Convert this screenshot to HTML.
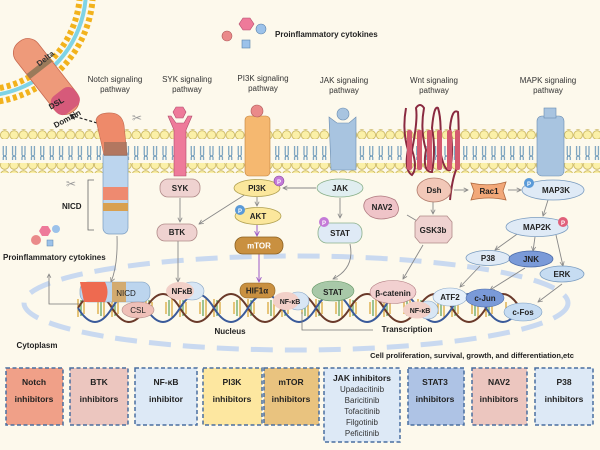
<!DOCTYPE html>
<html><head><meta charset="utf-8"><style>
html,body{margin:0;padding:0;background:#fdf9ec;}
svg{display:block;font-family:"Liberation Sans",sans-serif;}
.b{font-weight:bold;}
</style></head><body>
<svg width="600" height="450" viewBox="0 0 600 450" xmlns="http://www.w3.org/2000/svg">
<defs>
<pattern id="beads" x="0" y="0" width="9.4" height="10" patternUnits="userSpaceOnUse">
<circle cx="4.7" cy="5" r="4.3" fill="#fbf0a8" stroke="#c8b45c" stroke-width="0.8"/>
</pattern>
<pattern id="tails" x="0" y="0" width="9.4" height="26" patternUnits="userSpaceOnUse">
<path d="M3.2 1 V10 M6.2 1 V10 M3.2 1 Q4.7 -1 6.2 1 M3.2 16 V25 M6.2 16 V25 M3.2 25 Q4.7 27 6.2 25" stroke="#5a8db3" stroke-width="1" fill="none"/>
</pattern>
<marker id="ar" viewBox="0 0 10 10" refX="9" refY="5" markerWidth="6" markerHeight="6" orient="auto"><path d="M1 1 L9 5 L1 9" fill="none" stroke="#888" stroke-width="1.5"/></marker>
<marker id="arp" viewBox="0 0 10 10" refX="9" refY="5" markerWidth="6" markerHeight="6" orient="auto"><path d="M1 1 L9 5 L1 9" fill="none" stroke="#9b59c6" stroke-width="1.5"/></marker>
<marker id="ark" viewBox="0 0 10 10" refX="9" refY="5" markerWidth="6" markerHeight="6" orient="auto-start-reverse"><path d="M1 1 L9 5 L1 9" fill="none" stroke="#222" stroke-width="1.5"/></marker>
</defs>

<!-- left cell membrane -->
<circle cx="-20" cy="-10" r="113" fill="none" stroke="#f2b21c" stroke-width="6" stroke-dasharray="4 3"/>
<circle cx="-20" cy="-10" r="106" fill="none" stroke="#7fd3e6" stroke-width="4"/>
<circle cx="-20" cy="-10" r="100" fill="none" stroke="#f2b21c" stroke-width="6" stroke-dasharray="4 3"/>
<!-- Delta -->
<g transform="translate(45,75) rotate(-38)">
<rect x="-14" y="-42" width="28" height="88" rx="13" fill="#ee9a7a" stroke="#c86a50" stroke-width="0.8"/>
<rect x="-14" y="-12" width="28" height="6" fill="#9a7a5a"/>
<rect x="-14" y="22" width="28" height="22" rx="8" fill="#d65a7a"/>
</g>
<text x="37" y="64" font-size="8" class="b" transform="rotate(-38 42 62)" fill="#333">Delta</text>
<text x="49" y="107" font-size="8" class="b" transform="rotate(-30 55 105)" fill="#222">DSL</text>
<text x="52" y="122" font-size="8" class="b" transform="rotate(-28 66 118)" fill="#222">Domain</text>
<line x1="70" y1="115" x2="104" y2="125" stroke="#222" stroke-width="1.2" stroke-dasharray="3 2" marker-end="url(#ark)" marker-start="url(#ark)"/>

<!-- cytokines top -->
<polygon points="243,18 250,18 254,24 250,30 243,30 239,24" fill="#ee7a9a" stroke="#b04a6a" stroke-width="0.6"/>
<circle cx="227" cy="36" r="5" fill="#ea8a8a" stroke="#b05a5a" stroke-width="0.6"/>
<circle cx="261" cy="29" r="5" fill="#9cc2ea" stroke="#5a82aa" stroke-width="0.6"/>
<rect x="242" y="40" width="8" height="8" fill="#9cc2ea" stroke="#5a82aa" stroke-width="0.6"/>
<text x="275" y="37" font-size="8" class="b" fill="#222">Proinflammatory cytokines</text>

<!-- pathway labels -->
<g font-size="8" fill="#333" text-anchor="middle">
<text x="115" y="82">Notch signaling</text><text x="115" y="92">pathway</text>
<text x="187" y="82">SYK signaling</text><text x="187" y="92">pathway</text>
<text x="263" y="81">PI3K signaling</text><text x="263" y="91">pathway</text>
<text x="344" y="83">JAK signaling</text><text x="344" y="93">pathway</text>
<text x="434" y="83">Wnt signaling</text><text x="434" y="93">pathway</text>
<text x="548" y="83">MAPK signaling</text><text x="548" y="93">pathway</text>
</g>

<!-- membrane -->
<rect x="0" y="142" width="600" height="18" fill="url(#tails)"/>
<rect x="0" y="129" width="600" height="10" fill="url(#beads)"/>
<rect x="0" y="163" width="600" height="10" fill="url(#beads)"/>

<!-- Notch receptor -->
<rect x="103" y="150" width="25" height="84" rx="6" fill="#bcd5ee" stroke="#7a9cc0" stroke-width="0.7"/>
<rect x="103" y="187" width="25" height="13" fill="#ee8a70"/>
<rect x="103" y="203" width="25" height="8" fill="#d8a050"/>
<path d="M96 120 Q98 112 112 113 Q122 114 124 125 L127 155 L104 155 Z" fill="#ee8a6a" stroke="#c06a50" stroke-width="0.6"/>
<rect x="104" y="142" width="23" height="14" fill="#8a6a5a" opacity="0.6"/>
<path d="M94 180 H88 V230 H94" fill="none" stroke="#666" stroke-width="0.8"/>
<text x="62" y="209" font-size="8" class="b" fill="#222">NICD</text>
<text x="132" y="122" font-size="12" fill="#999">✂</text>
<text x="66" y="188" font-size="12" fill="#999">✂</text>

<!-- SYK receptor -->
<path d="M171 116 L176 123 H184 L188 116 L192 116 L186 130 L186 176 L174 176 L174 130 L168 116 Z" fill="#ee7a9a" stroke="#b04a6a" stroke-width="0.6"/>
<polygon points="176,107 183,107 186,112 183,118 176,118 173,112" fill="#ee7a9a" stroke="#b04a6a" stroke-width="0.6"/>
<!-- PI3K receptor -->
<rect x="245" y="116" width="25" height="60" rx="4" fill="#f5b870" stroke="#c0803a" stroke-width="0.6"/>
<circle cx="257" cy="111" r="6" fill="#ea8a8a" stroke="#b05a5a" stroke-width="0.6"/>
<!-- JAK receptor -->
<path d="M329 117 L337 123 H349 L356 117 L356 170 L331 170 Z" fill="#a8c4e0" stroke="#6a8cb0" stroke-width="0.6"/>
<circle cx="343" cy="114" r="6" fill="#a8c4e0" stroke="#6a8cb0" stroke-width="0.6"/>
<!-- Wnt -->
<g fill="none" stroke="#8a2a40" stroke-width="2">
<path d="M406 108 Q402 130 408 150 Q404 170 412 175 Q418 168 412 150 Q418 120 416 108 Q420 102 424 108 Q420 130 426 150 Q422 172 432 172 Q436 150 432 128 Q434 105 438 108 Q442 120 440 150 Q444 172 450 170 Q454 150 450 128 Q452 108 458 112 Q460 140 456 170 Q452 180 450 200"/>
</g>
<g fill="#d45a70"><rect x="407" y="130" width="5" height="40" rx="2"/><rect x="417" y="130" width="5" height="40" rx="2"/><rect x="427" y="130" width="5" height="40" rx="2"/><rect x="437" y="130" width="5" height="40" rx="2"/><rect x="447" y="130" width="5" height="40" rx="2"/><rect x="455" y="130" width="5" height="40" rx="2"/></g>
<!-- MAPK receptor -->
<rect x="537" y="116" width="27" height="60" rx="5" fill="#a8c4e0" stroke="#6a8cb0" stroke-width="0.6"/>
<rect x="544" y="108" width="12" height="10" fill="#a8c4e0" stroke="#6a8cb0" stroke-width="0.6"/>

<!-- nucleus -->
<ellipse cx="296" cy="303" rx="272" ry="47" fill="none" stroke="#c9d9f0" stroke-width="5" stroke-dasharray="22 12"/>

<!-- DNA -->
<g stroke-width="1.2">
<path d="M78 299V317M84 302V314M98 302V314M104 299V317M112 299V317M118 302V314M132 302V314M138 299V317M146 299V317M152 302V314M166 302V314M172 299V317M180 299V317M186 302V314M200 302V314M206 299V317M214 299V317M220 302V314M234 302V314M240 299V317M248 299V317M254 302V314M268 302V314M274 299V317M282 299V317M288 302V314M302 302V314M308 299V317M316 299V317M322 302V314M336 302V314M342 299V317M350 299V317M356 302V314M370 302V314M376 299V317M384 299V317M390 302V314M404 302V314M410 299V317M418 299V317M424 302V314M438 302V314M444 299V317M452 299V317M458 302V314M472 302V314M478 299V317M486 299V317M492 302V314M506 302V314" stroke="#d8a030"/>
<path d="M81 300V316M101 300V316M115 300V316M135 300V316M149 300V316M169 300V316M183 300V316M203 300V316M217 300V316M237 300V316M251 300V316M271 300V316M285 300V316M305 300V316M319 300V316M339 300V316M353 300V316M373 300V316M387 300V316M407 300V316M421 300V316M441 300V316M455 300V316M475 300V316M489 300V316" stroke="#5aa05a"/>
<path d="M78 308 Q95 280 112 308 T146 308 T180 308 T214 308 T248 308 T282 308 T316 308 T350 308 T384 308 T418 308 T452 308 T486 308 T520 308" fill="none" stroke="#6a3a2a" stroke-width="2"/>
<path d="M78 308 Q95 336 112 308 T146 308 T180 308 T214 308 T248 308 T282 308 T316 308 T350 308 T384 308 T418 308 T452 308 T486 308 T520 308" fill="none" stroke="#3a5a9a" stroke-width="2"/>
</g>

<!-- transcription/cytokines arrows -->
<path d="M80 304 H49 V274" fill="none" stroke="#777" stroke-width="0.8" marker-end="url(#ar)"/>
<path d="M302 312 V330 H373" fill="none" stroke="#777" stroke-width="0.8"/>

<!-- left cytokines -->
<polygon points="42,226 48,226 51,231 48,236 42,236 39,231" fill="#ee7a9a"/>
<circle cx="56" cy="229" r="4" fill="#9cc2ea"/>
<circle cx="36" cy="240" r="5" fill="#ea8a8a"/>
<rect x="47" y="240" width="6" height="6" fill="#9cc2ea" stroke="#5a82aa" stroke-width="0.5"/>
<text x="3" y="260" font-size="8" class="b" fill="#222">Proinflammatory cytokines</text>

<!-- arrows -->
<g stroke="#888" stroke-width="0.9" fill="none" marker-end="url(#ar)">
<path d="M117 236 Q118 265 111 282"/>
<line x1="180" y1="198" x2="180" y2="222"/>
<line x1="178" y1="241" x2="178" y2="282"/>
<line x1="246" y1="194" x2="199" y2="224"/>
<line x1="257" y1="197" x2="257" y2="206"/>
<line x1="316" y1="188" x2="283" y2="188"/>
<line x1="340" y1="198" x2="340" y2="218"/>
<path d="M350 244 Q355 268 333 279"/>
<line x1="433" y1="201" x2="433" y2="214"/>
<line x1="407" y1="215" x2="424" y2="225"/>
<line x1="423" y1="245" x2="403" y2="279"/>
<line x1="454" y1="190" x2="468" y2="190"/>
<line x1="508" y1="190" x2="521" y2="190"/>
<line x1="548" y1="200" x2="543" y2="216"/>
<line x1="520" y1="232" x2="495" y2="250"/>
<line x1="535" y1="237" x2="533" y2="251"/>
<line x1="556" y1="235" x2="563" y2="266"/>
<line x1="480" y1="266" x2="460" y2="287"/>
<line x1="525" y1="268" x2="490" y2="290"/>
<line x1="562" y1="284" x2="538" y2="302"/>
</g>
<g stroke="#9b59c6" stroke-width="1" marker-end="url(#arp)">
<line x1="257" y1="225" x2="257" y2="236"/>
<line x1="259" y1="254" x2="259" y2="282"/>
</g>

<!-- nodes -->
<g font-size="8" class="b" fill="#222" text-anchor="middle">
<rect x="160" y="179" width="40" height="18" rx="8" fill="#efd2d0" stroke="#b08a88" stroke-width="0.8"/><text x="180" y="191">SYK</text>
<rect x="157" y="224" width="40" height="17" rx="8" fill="#efd2d0" stroke="#b08a88" stroke-width="0.8"/><text x="177" y="235">BTK</text>
<ellipse cx="257" cy="188" rx="23" ry="8.5" fill="#fbe79c" stroke="#b0a050" stroke-width="0.8"/><text x="257" y="191">PI3K</text>
<circle cx="279" cy="181" r="5" fill="#c47ad8" stroke="#8a4aa0" stroke-width="0.6"/><text x="279" y="184" font-size="6" fill="#fff">P</text>
<ellipse cx="258" cy="216" rx="23" ry="8.5" fill="#fbe79c" stroke="#b0a050" stroke-width="0.8"/><text x="258" y="219">AKT</text>
<circle cx="240" cy="210" r="5" fill="#5a9ad8"/><text x="240" y="213" font-size="6" fill="#fff">P</text>
<rect x="235" y="237" width="48" height="17" rx="8" fill="#c99040" stroke="#8a6020" stroke-width="0.8"/><text x="259" y="248.5" fill="#fff">mTOR</text>
<ellipse cx="340" cy="188" rx="23" ry="9" fill="#e0eef0" stroke="#8ab08a" stroke-width="0.8"/><text x="340" y="191">JAK</text>
<rect x="318" y="223" width="44" height="20" rx="9" fill="#dfeaf6" stroke="#8ab08a" stroke-width="0.8"/><text x="340" y="236">STAT</text>
<circle cx="324" cy="222" r="5" fill="#c47ad8"/><text x="324" y="225" font-size="6" fill="#fff">P</text>
<path d="M366 200 Q380 192 395 200 Q402 210 395 216 Q380 222 370 216 Q360 208 366 200 Z" fill="#efc4c8" stroke="#b07a80" stroke-width="0.8"/><text x="382" y="210">NAV2</text>
<ellipse cx="434" cy="190" rx="17" ry="12" fill="#f2c8b8" stroke="#b07a6a" stroke-width="0.8"/><text x="434" y="193">Dsh</text>
<polygon points="415,222 420,216 447,216 452,222 452,237 447,243 420,243 415,237" fill="#efd2d0" stroke="#b08a88" stroke-width="0.8"/><text x="433" y="233">GSK3b</text>
<path d="M471 183 Q489 187 506 182 L503 191 L506 200 Q489 196 471 200 L474 191 Z" fill="#f2a878" stroke="#b06a40" stroke-width="0.8"/><text x="489" y="194">Rac1</text>
<ellipse cx="553" cy="190" rx="31" ry="10" fill="#dfeaf6" stroke="#7a9cc0" stroke-width="0.8"/><text x="556" y="193">MAP3K</text>
<circle cx="529" cy="183" r="5" fill="#5a9ad8"/><text x="529" y="186" font-size="6" fill="#fff">P</text>
<ellipse cx="537" cy="227" rx="31" ry="9.5" fill="#dfeaf6" stroke="#7a9cc0" stroke-width="0.8"/><text x="537" y="230">MAP2K</text>
<circle cx="563" cy="222" r="5" fill="#e0607a"/><text x="563" y="225" font-size="6" fill="#fff">P</text>
<ellipse cx="488" cy="258" rx="22" ry="7.5" fill="#dfeaf6" stroke="#7a9cc0" stroke-width="0.8"/><text x="488" y="261">P38</text>
<ellipse cx="531" cy="259" rx="22" ry="8" fill="#7a9ad8" stroke="#4a6aa8" stroke-width="0.8"/><text x="531" y="262">JNK</text>
<ellipse cx="562" cy="274" rx="22" ry="8" fill="#c6dcf2" stroke="#7a9cc0" stroke-width="0.8"/><text x="562" y="277">ERK</text>

<!-- nuclear -->
<rect x="80" y="282" width="70" height="20" rx="8" fill="#bcd5ee" stroke="#7a9cc0" stroke-width="0.6"/>
<path d="M80 282 H105 Q110 292 105 302 H84 Z" fill="#ee6a50"/>
<rect x="112" y="282" width="14" height="20" fill="#d8a050" opacity="0.8"/>
<text x="126" y="296" font-weight="normal">NICD</text>
<ellipse cx="138" cy="310" rx="16" ry="8" fill="#efc0b8" stroke="#b08a88" stroke-width="0.6"/><text x="138" y="313" font-weight="normal">CSL</text>
<ellipse cx="192" cy="291" rx="12" ry="9" fill="#d8e6f4" stroke="#8aa8c8" stroke-width="0.6"/>
<ellipse cx="180" cy="291" rx="14" ry="9" fill="#f2d0c8"/><text x="182" y="294">NFκB</text>
<rect x="240" y="283" width="35" height="15" rx="7" fill="#c99040" stroke="#8a6020" stroke-width="0.6"/><text x="257" y="293.5">HIF1α</text>
<ellipse cx="298" cy="301" rx="11" ry="9" fill="#d8e6f4" stroke="#8aa8c8" stroke-width="0.6"/>
<ellipse cx="286" cy="301" rx="13" ry="9" fill="#f2d0c8"/><text x="290" y="304" font-size="7">NF-κB</text>
<ellipse cx="333" cy="291" rx="21" ry="10" fill="#a8c8a8" stroke="#6a9a6a" stroke-width="0.6"/><text x="333" y="295">STAT</text>
<ellipse cx="393" cy="292" rx="23" ry="11.5" fill="#f2d0d0" stroke="#b07a80" stroke-width="0.6"/><text x="393" y="296">β-catenin</text>
<ellipse cx="428" cy="310" rx="10" ry="9" fill="#d8e6f4" stroke="#8aa8c8" stroke-width="0.6"/>
<ellipse cx="417" cy="310" rx="14" ry="8.5" fill="#f2d0c8"/><text x="420" y="313" font-size="7">NF-κB</text>
<ellipse cx="450" cy="297" rx="17" ry="9" fill="#e6f0fa" stroke="#8aa8c8" stroke-width="0.6"/><text x="450" y="300">ATF2</text>
<ellipse cx="485" cy="298" rx="19" ry="9" fill="#7a9ad8" stroke="#4a6aa8" stroke-width="0.6"/><text x="485" y="301">c-Jun</text>
<ellipse cx="523" cy="312" rx="19" ry="9" fill="#c6dcf2" stroke="#7a9cc0" stroke-width="0.6"/><text x="523" y="315">c-Fos</text>
<text x="230" y="334">Nucleus</text>
<text x="407" y="332">Transcription</text>
<text x="37" y="348">Cytoplasm</text>
<text x="472" y="358" font-size="7.5">Cell proliferation, survival, growth, and differentiation,etc</text>
</g>

<!-- inhibitor boxes -->
<g stroke="#4a6fa0" stroke-width="1.5" stroke-dasharray="4 2.5">
<rect x="6" y="368" width="57" height="57" fill="#f0a088"/>
<rect x="70" y="368" width="58" height="57" fill="#ecc6bf"/>
<rect x="135" y="368" width="62" height="57" fill="#dde9f6"/>
<rect x="203" y="368" width="59" height="57" fill="#fde7a0"/>
<rect x="264" y="368" width="55" height="57" fill="#e9c37f"/>
<rect x="324" y="368" width="76" height="74" fill="#dde9f6"/>
<rect x="408" y="368" width="56" height="57" fill="#aec3e5"/>
<rect x="472" y="368" width="55" height="57" fill="#ecc6bf"/>
<rect x="535" y="368" width="58" height="57" fill="#dde9f6"/>
</g>
<g font-size="8.5" class="b" fill="#222" text-anchor="middle">
<text x="34" y="385">Notch</text><text x="34" y="402">inhibitors</text>
<text x="99" y="385">BTK</text><text x="99" y="402">inhibitors</text>
<text x="166" y="385">NF-κB</text><text x="166" y="402">inhibitor</text>
<text x="232" y="385">PI3K</text><text x="232" y="402">inhibitors</text>
<text x="291" y="385">mTOR</text><text x="291" y="402">inhibitors</text>
<text x="362" y="381">JAK inhibitors</text>
<text x="435" y="385">STAT3</text><text x="435" y="402">inhibitors</text>
<text x="499" y="385">NAV2</text><text x="499" y="402">inhibitors</text>
<text x="564" y="385">P38</text><text x="564" y="402">inhibitors</text>
</g>
<g font-size="8" fill="#333" text-anchor="middle">
<text x="362" y="392">Upadacitinib</text>
<text x="362" y="403">Baricitinib</text>
<text x="362" y="414">Tofacitinib</text>
<text x="362" y="425">Filgotinib</text>
<text x="362" y="436">Peficitinib</text>
</g>
</svg>
</body></html>
